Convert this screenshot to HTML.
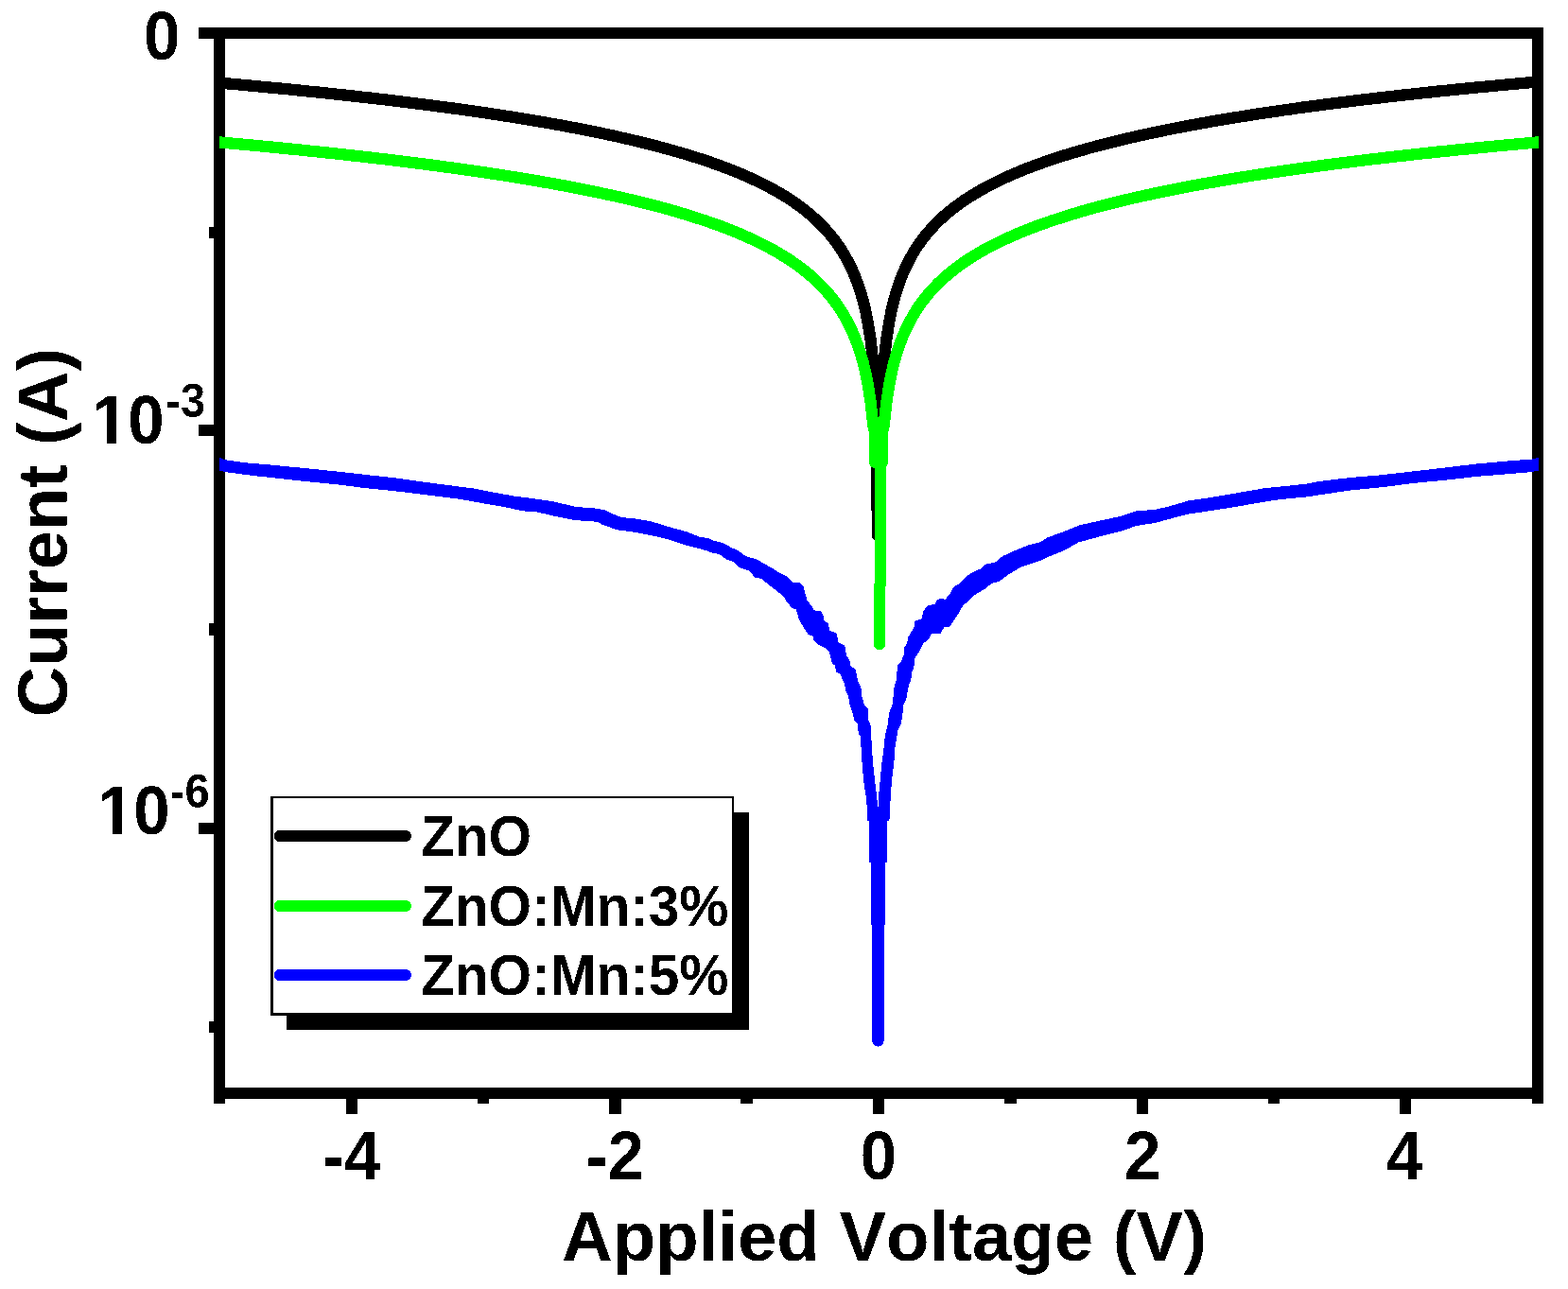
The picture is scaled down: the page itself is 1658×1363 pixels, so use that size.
<!DOCTYPE html>
<html lang="en"><head><meta charset="utf-8"><title>Current (A) vs Applied Voltage (V)</title>
<style>
html,body{margin:0;padding:0;background:#fff;}
body{width:1658px;height:1363px;overflow:hidden;}
svg{display:block;}
text{font-family:"Liberation Sans",sans-serif;font-weight:bold;fill:#000;font-kerning:none;font-variant-ligatures:none;}
.ax{fill:#000;shape-rendering:crispEdges;}
.cv{fill:none;stroke-width:12.3;stroke-linejoin:round;stroke-linecap:round;shape-rendering:crispEdges;}
</style></head><body>
<svg width="1658" height="1363" viewBox="0 0 1658 1363">
<rect x="0" y="0" width="1658" height="1363" fill="#fff"/>
<defs><filter id="bin" x="-10%" y="-20%" width="120%" height="140%" color-interpolation-filters="sRGB"><feComponentTransfer><feFuncA type="discrete" tableValues="0 1"/></feComponentTransfer></filter></defs>
<defs><clipPath id="plot"><rect x="232" y="29" width="1395" height="1133"/></clipPath></defs>
<g class="ax">
<rect x="226" y="29" width="1406" height="12"/>
<rect x="226" y="1150" width="1406" height="12"/>
<rect x="226" y="29" width="12" height="1138"/>
<rect x="1620" y="29" width="12" height="1138"/>
<rect x="210" y="29" width="16" height="12"/>
<rect x="210" y="449" width="16" height="12"/>
<rect x="210" y="870" width="16" height="12"/>
<rect x="221" y="240" width="5" height="12"/>
<rect x="221" y="659" width="5" height="13"/>
<rect x="221" y="1080" width="5" height="12"/>
<rect x="366" y="1162" width="12" height="16"/>
<rect x="644" y="1162" width="13" height="16"/>
<rect x="923" y="1162" width="12" height="16"/>
<rect x="1202" y="1162" width="12" height="16"/>
<rect x="1480" y="1162" width="12" height="16"/>
<rect x="505" y="1162" width="12" height="5"/>
<rect x="783" y="1162" width="13" height="5"/>
<rect x="1062" y="1162" width="13" height="5"/>
<rect x="1341" y="1162" width="12" height="5"/>
</g>
<g clip-path="url(#plot)">
<polyline class="cv" stroke="#000" points="231.8,87.6 234.5,87.8 237.3,88.1 240.1,88.3 242.9,88.6 245.7,88.8 248.5,89.1 251.3,89.3 254.1,89.6 256.9,89.9 259.6,90.1 262.4,90.4 265.2,90.6 268.0,90.9 270.8,91.1 273.6,91.4 276.4,91.7 279.2,91.9 282.0,92.2 284.7,92.5 287.5,92.7 290.3,93.0 293.1,93.3 295.9,93.5 298.7,93.8 301.5,94.1 304.3,94.3 307.1,94.6 309.8,94.9 312.6,95.2 315.4,95.5 318.2,95.7 321.0,96.0 323.8,96.3 326.6,96.6 329.4,96.9 332.2,97.2 334.9,97.4 337.7,97.7 340.5,98.0 343.3,98.3 346.1,98.6 348.9,98.9 351.7,99.2 354.5,99.5 357.3,99.8 360.0,100.1 362.8,100.4 365.6,100.7 368.4,101.0 371.2,101.3 374.0,101.6 376.8,101.9 379.6,102.2 382.4,102.6 385.1,102.9 387.9,103.2 390.7,103.5 393.5,103.8 396.3,104.1 399.1,104.5 401.9,104.8 404.7,105.1 407.5,105.4 410.2,105.8 413.0,106.1 415.8,106.4 418.6,106.8 421.4,107.1 424.2,107.4 427.0,107.8 429.8,108.1 432.6,108.5 435.3,108.8 438.1,109.2 440.9,109.5 443.7,109.9 446.5,110.2 449.3,110.6 452.1,110.9 454.9,111.3 457.7,111.7 460.4,112.0 463.2,112.4 466.0,112.8 468.8,113.1 471.6,113.5 474.4,113.9 477.2,114.3 480.0,114.6 482.8,115.0 485.5,115.4 488.3,115.8 491.1,116.2 493.9,116.6 496.7,117.0 499.5,117.4 502.3,117.8 505.1,118.2 507.9,118.6 510.7,119.0 513.4,119.4 516.2,119.8 519.0,120.2 521.8,120.7 524.6,121.1 527.4,121.5 530.2,121.9 533.0,122.4 535.8,122.8 538.5,123.2 541.3,123.7 544.1,124.1 546.9,124.6 549.7,125.0 552.5,125.5 555.3,125.9 558.1,126.4 560.9,126.8 563.6,127.3 566.4,127.8 569.2,128.3 572.0,128.7 574.8,129.2 577.6,129.7 580.4,130.2 583.2,130.7 586.0,131.2 588.7,131.7 591.5,132.2 594.3,132.7 597.1,133.2 599.9,133.7 602.7,134.3 605.5,134.8 608.3,135.3 611.1,135.9 613.8,136.4 616.6,136.9 619.4,137.5 622.2,138.1 625.0,138.6 627.8,139.2 630.6,139.8 633.4,140.3 636.2,140.9 638.9,141.5 641.7,142.1 644.5,142.7 647.3,143.3 650.1,143.9 652.9,144.5 655.7,145.2 658.5,145.8 661.3,146.4 664.0,147.1 666.8,147.7 669.6,148.4 672.4,149.0 675.2,149.7 678.0,150.4 680.8,151.1 683.6,151.8 686.4,152.5 689.1,153.2 691.9,153.9 694.7,154.6 697.5,155.4 700.3,156.1 703.1,156.9 705.9,157.6 708.7,158.4 711.5,159.2 714.2,160.0 717.0,160.8 719.8,161.6 722.6,162.4 725.4,163.2 728.2,164.1 731.0,165.0 733.8,165.8 736.6,166.7 739.3,167.6 742.1,168.5 744.9,169.4 747.7,170.4 750.5,171.3 753.3,172.3 756.1,173.3 758.9,174.3 761.7,175.3 764.4,176.3 767.2,177.4 770.0,178.5 772.8,179.5 775.6,180.6 778.4,181.8 781.2,182.9 784.0,184.1 786.8,185.3 789.5,186.5 792.3,187.7 795.1,189.0 797.9,190.3 800.7,191.6 803.5,193.0 806.3,194.4 809.1,195.8 811.9,197.2 814.7,198.7 817.4,200.2 820.2,201.8 823.0,203.4 825.8,205.0 828.6,206.7 831.4,208.4 834.2,210.2 837.0,212.0 839.8,213.9 842.5,215.9 845.3,217.9 848.1,220.0 850.9,222.1 853.7,224.4 856.5,226.7 859.3,229.1 862.1,231.6 864.9,234.2 867.6,237.0 870.4,239.8 873.2,242.8 876.0,246.0 878.8,249.3 881.6,252.8 884.4,256.5 887.2,260.5 890.0,264.7 892.7,269.3 895.5,274.2 898.3,279.6 901.1,285.4 903.9,291.9 906.7,299.1 909.5,307.3 912.3,316.8 915.1,328.0 917.8,341.7 920.6,359.4 923.4,384.3 926.2,426.9 928.0,566.0 931.8,425.8 934.6,383.2 937.4,358.3 940.2,340.6 942.9,326.9 945.7,315.7 948.5,306.2 951.3,298.0 954.1,290.8 956.9,284.3 959.7,278.5 962.5,273.1 965.3,268.2 968.0,263.6 970.8,259.4 973.6,255.4 976.4,251.7 979.2,248.2 982.0,244.9 984.8,241.7 987.6,238.7 990.4,235.9 993.1,233.1 995.9,230.5 998.7,228.0 1001.5,225.6 1004.3,223.3 1007.1,221.0 1009.9,218.9 1012.7,216.8 1015.5,214.8 1018.2,212.8 1021.0,210.9 1023.8,209.1 1026.6,207.3 1029.4,205.6 1032.2,203.9 1035.0,202.3 1037.8,200.7 1040.6,199.1 1043.3,197.6 1046.1,196.1 1048.9,194.7 1051.7,193.3 1054.5,191.9 1057.3,190.5 1060.1,189.2 1062.9,187.9 1065.7,186.6 1068.5,185.4 1071.2,184.2 1074.0,183.0 1076.8,181.8 1079.6,180.7 1082.4,179.5 1085.2,178.4 1088.0,177.4 1090.8,176.3 1093.6,175.2 1096.3,174.2 1099.1,173.2 1101.9,172.2 1104.7,171.2 1107.5,170.2 1110.3,169.3 1113.1,168.3 1115.9,167.4 1118.7,166.5 1121.4,165.6 1124.2,164.7 1127.0,163.9 1129.8,163.0 1132.6,162.1 1135.4,161.3 1138.2,160.5 1141.0,159.7 1143.8,158.9 1146.5,158.1 1149.3,157.3 1152.1,156.5 1154.9,155.8 1157.7,155.0 1160.5,154.3 1163.3,153.5 1166.1,152.8 1168.9,152.1 1171.6,151.4 1174.4,150.7 1177.2,150.0 1180.0,149.3 1182.8,148.6 1185.6,147.9 1188.4,147.3 1191.2,146.6 1194.0,146.0 1196.7,145.3 1199.5,144.7 1202.3,144.1 1205.1,143.4 1207.9,142.8 1210.7,142.2 1213.5,141.6 1216.3,141.0 1219.1,140.4 1221.8,139.8 1224.6,139.2 1227.4,138.7 1230.2,138.1 1233.0,137.5 1235.8,137.0 1238.6,136.4 1241.4,135.8 1244.2,135.3 1246.9,134.8 1249.7,134.2 1252.5,133.7 1255.3,133.2 1258.1,132.6 1260.9,132.1 1263.7,131.6 1266.5,131.1 1269.3,130.6 1272.0,130.1 1274.8,129.6 1277.6,129.1 1280.4,128.6 1283.2,128.1 1286.0,127.6 1288.8,127.2 1291.6,126.7 1294.4,126.2 1297.1,125.7 1299.9,125.3 1302.7,124.8 1305.5,124.4 1308.3,123.9 1311.1,123.5 1313.9,123.0 1316.7,122.6 1319.5,122.1 1322.2,121.7 1325.0,121.3 1327.8,120.8 1330.6,120.4 1333.4,120.0 1336.2,119.6 1339.0,119.1 1341.8,118.7 1344.6,118.3 1347.3,117.9 1350.1,117.5 1352.9,117.1 1355.7,116.7 1358.5,116.3 1361.3,115.9 1364.1,115.5 1366.9,115.1 1369.7,114.7 1372.5,114.3 1375.2,113.9 1378.0,113.5 1380.8,113.2 1383.6,112.8 1386.4,112.4 1389.2,112.0 1392.0,111.7 1394.8,111.3 1397.6,110.9 1400.3,110.6 1403.1,110.2 1405.9,109.8 1408.7,109.5 1411.5,109.1 1414.3,108.8 1417.1,108.4 1419.9,108.1 1422.7,107.7 1425.4,107.4 1428.2,107.0 1431.0,106.7 1433.8,106.3 1436.6,106.0 1439.4,105.7 1442.2,105.3 1445.0,105.0 1447.8,104.7 1450.5,104.3 1453.3,104.0 1456.1,103.7 1458.9,103.4 1461.7,103.0 1464.5,102.7 1467.3,102.4 1470.1,102.1 1472.9,101.8 1475.6,101.5 1478.4,101.1 1481.2,100.8 1484.0,100.5 1486.8,100.2 1489.6,99.9 1492.4,99.6 1495.2,99.3 1498.0,99.0 1500.7,98.7 1503.5,98.4 1506.3,98.1 1509.1,97.8 1511.9,97.5 1514.7,97.2 1517.5,96.9 1520.3,96.6 1523.1,96.3 1525.8,96.1 1528.6,95.8 1531.4,95.5 1534.2,95.2 1537.0,94.9 1539.8,94.6 1542.6,94.4 1545.4,94.1 1548.2,93.8 1550.9,93.5 1553.7,93.2 1556.5,93.0 1559.3,92.7 1562.1,92.4 1564.9,92.2 1567.7,91.9 1570.5,91.6 1573.3,91.4 1576.0,91.1 1578.8,90.8 1581.6,90.6 1584.4,90.3 1587.2,90.0 1590.0,89.8 1592.8,89.5 1595.6,89.3 1598.4,89.0 1601.1,88.8 1603.9,88.5 1606.7,88.2 1609.5,88.0 1612.3,87.7 1615.1,87.5 1617.9,87.2 1620.7,87.0 1623.5,86.7 1626.2,86.5"/>
<polyline class="cv" stroke="#00ff00" points="231.8,150.4 234.5,150.6 237.3,150.9 240.1,151.1 242.9,151.4 245.7,151.7 248.5,151.9 251.3,152.2 254.1,152.4 256.9,152.7 259.6,152.9 262.4,153.2 265.2,153.5 268.0,153.7 270.8,154.0 273.6,154.2 276.4,154.5 279.2,154.8 282.0,155.0 284.7,155.3 287.5,155.6 290.3,155.8 293.1,156.1 295.9,156.4 298.7,156.7 301.5,156.9 304.3,157.2 307.1,157.5 309.8,157.8 312.6,158.1 315.4,158.3 318.2,158.6 321.0,158.9 323.8,159.2 326.6,159.5 329.4,159.8 332.2,160.1 334.9,160.3 337.7,160.6 340.5,160.9 343.3,161.2 346.1,161.5 348.9,161.8 351.7,162.1 354.5,162.4 357.3,162.7 360.0,163.0 362.8,163.3 365.6,163.6 368.4,163.9 371.2,164.3 374.0,164.6 376.8,164.9 379.6,165.2 382.4,165.5 385.1,165.8 387.9,166.1 390.7,166.5 393.5,166.8 396.3,167.1 399.1,167.4 401.9,167.8 404.7,168.1 407.5,168.4 410.2,168.8 413.0,169.1 415.8,169.4 418.6,169.8 421.4,170.1 424.2,170.5 427.0,170.8 429.8,171.1 432.6,171.5 435.3,171.8 438.1,172.2 440.9,172.6 443.7,172.9 446.5,173.3 449.3,173.6 452.1,174.0 454.9,174.4 457.7,174.7 460.4,175.1 463.2,175.5 466.0,175.8 468.8,176.2 471.6,176.6 474.4,177.0 477.2,177.3 480.0,177.7 482.8,178.1 485.5,178.5 488.3,178.9 491.1,179.3 493.9,179.7 496.7,180.1 499.5,180.5 502.3,180.9 505.1,181.3 507.9,181.7 510.7,182.1 513.4,182.5 516.2,183.0 519.0,183.4 521.8,183.8 524.6,184.2 527.4,184.7 530.2,185.1 533.0,185.5 535.8,186.0 538.5,186.4 541.3,186.9 544.1,187.3 546.9,187.8 549.7,188.2 552.5,188.7 555.3,189.1 558.1,189.6 560.9,190.1 563.6,190.5 566.4,191.0 569.2,191.5 572.0,192.0 574.8,192.5 577.6,193.0 580.4,193.4 583.2,193.9 586.0,194.4 588.7,195.0 591.5,195.5 594.3,196.0 597.1,196.5 599.9,197.0 602.7,197.6 605.5,198.1 608.3,198.6 611.1,199.2 613.8,199.7 616.6,200.3 619.4,200.8 622.2,201.4 625.0,202.0 627.8,202.5 630.6,203.1 633.4,203.7 636.2,204.3 638.9,204.9 641.7,205.5 644.5,206.1 647.3,206.7 650.1,207.3 652.9,207.9 655.7,208.6 658.5,209.2 661.3,209.8 664.0,210.5 666.8,211.1 669.6,211.8 672.4,212.5 675.2,213.2 678.0,213.8 680.8,214.5 683.6,215.2 686.4,216.0 689.1,216.7 691.9,217.4 694.7,218.1 697.5,218.9 700.3,219.6 703.1,220.4 705.9,221.2 708.7,221.9 711.5,222.7 714.2,223.5 717.0,224.3 719.8,225.2 722.6,226.0 725.4,226.9 728.2,227.7 731.0,228.6 733.8,229.5 736.6,230.4 739.3,231.3 742.1,232.2 744.9,233.1 747.7,234.1 750.5,235.0 753.3,236.0 756.1,237.0 758.9,238.0 761.7,239.0 764.4,240.1 767.2,241.1 770.0,242.2 772.8,243.3 775.6,244.4 778.4,245.6 781.2,246.7 784.0,247.9 786.8,249.1 789.5,250.4 792.3,251.6 795.1,252.9 797.9,254.2 800.7,255.5 803.5,256.9 806.3,258.3 809.1,259.7 811.9,261.2 814.7,262.7 817.4,264.2 820.2,265.8 823.0,267.4 825.8,269.1 828.6,270.8 831.4,272.5 834.2,274.3 837.0,276.2 839.8,278.1 842.5,280.0 845.3,282.1 848.1,284.2 850.9,286.4 853.7,288.6 856.5,291.0 859.3,293.4 862.1,295.9 864.9,298.6 867.6,301.3 870.4,304.2 873.2,307.3 876.0,310.4 878.8,313.8 881.6,317.4 884.4,321.1 887.2,325.1 890.0,329.4 892.7,334.0 895.5,339.0 898.3,344.4 901.1,350.3 903.9,356.8 906.7,364.2 909.5,372.5 912.3,382.0 915.1,393.4 917.8,407.2 920.6,425.1 923.4,450.3 925.2,458.0 925.2,489.0 931.0,489.0 931.0,616.0 930.0,622.0 930.0,681.0 930.0,622.0 931.0,616.0 931.0,489.0 932.8,489.0 932.8,458.0 934.6,450.3 937.4,425.1 940.2,407.2 942.9,393.4 945.7,382.0 948.5,372.5 951.3,364.2 954.1,356.8 956.9,350.3 959.7,344.4 962.5,339.0 965.3,334.0 968.0,329.4 970.8,325.1 973.6,321.1 976.4,317.4 979.2,313.8 982.0,310.4 984.8,307.3 987.6,304.2 990.4,301.3 993.1,298.6 995.9,295.9 998.7,293.4 1001.5,291.0 1004.3,288.6 1007.1,286.4 1009.9,284.2 1012.7,282.1 1015.5,280.0 1018.2,278.1 1021.0,276.2 1023.8,274.3 1026.6,272.5 1029.4,270.8 1032.2,269.1 1035.0,267.4 1037.8,265.8 1040.6,264.2 1043.3,262.7 1046.1,261.2 1048.9,259.7 1051.7,258.3 1054.5,256.9 1057.3,255.5 1060.1,254.2 1062.9,252.9 1065.7,251.6 1068.5,250.4 1071.2,249.1 1074.0,247.9 1076.8,246.7 1079.6,245.6 1082.4,244.4 1085.2,243.3 1088.0,242.2 1090.8,241.1 1093.6,240.1 1096.3,239.0 1099.1,238.0 1101.9,237.0 1104.7,236.0 1107.5,235.0 1110.3,234.1 1113.1,233.1 1115.9,232.2 1118.7,231.3 1121.4,230.4 1124.2,229.5 1127.0,228.6 1129.8,227.7 1132.6,226.9 1135.4,226.0 1138.2,225.2 1141.0,224.3 1143.8,223.5 1146.5,222.7 1149.3,221.9 1152.1,221.2 1154.9,220.4 1157.7,219.6 1160.5,218.9 1163.3,218.1 1166.1,217.4 1168.9,216.7 1171.6,216.0 1174.4,215.2 1177.2,214.5 1180.0,213.8 1182.8,213.2 1185.6,212.5 1188.4,211.8 1191.2,211.1 1194.0,210.5 1196.7,209.8 1199.5,209.2 1202.3,208.6 1205.1,207.9 1207.9,207.3 1210.7,206.7 1213.5,206.1 1216.3,205.5 1219.1,204.9 1221.8,204.3 1224.6,203.7 1227.4,203.1 1230.2,202.5 1233.0,202.0 1235.8,201.4 1238.6,200.8 1241.4,200.3 1244.2,199.7 1246.9,199.2 1249.7,198.6 1252.5,198.1 1255.3,197.6 1258.1,197.0 1260.9,196.5 1263.7,196.0 1266.5,195.5 1269.3,195.0 1272.0,194.4 1274.8,193.9 1277.6,193.4 1280.4,193.0 1283.2,192.5 1286.0,192.0 1288.8,191.5 1291.6,191.0 1294.4,190.5 1297.1,190.1 1299.9,189.6 1302.7,189.1 1305.5,188.7 1308.3,188.2 1311.1,187.8 1313.9,187.3 1316.7,186.9 1319.5,186.4 1322.2,186.0 1325.0,185.5 1327.8,185.1 1330.6,184.7 1333.4,184.2 1336.2,183.8 1339.0,183.4 1341.8,183.0 1344.6,182.5 1347.3,182.1 1350.1,181.7 1352.9,181.3 1355.7,180.9 1358.5,180.5 1361.3,180.1 1364.1,179.7 1366.9,179.3 1369.7,178.9 1372.5,178.5 1375.2,178.1 1378.0,177.7 1380.8,177.3 1383.6,177.0 1386.4,176.6 1389.2,176.2 1392.0,175.8 1394.8,175.5 1397.6,175.1 1400.3,174.7 1403.1,174.4 1405.9,174.0 1408.7,173.6 1411.5,173.3 1414.3,172.9 1417.1,172.6 1419.9,172.2 1422.7,171.8 1425.4,171.5 1428.2,171.1 1431.0,170.8 1433.8,170.5 1436.6,170.1 1439.4,169.8 1442.2,169.4 1445.0,169.1 1447.8,168.8 1450.5,168.4 1453.3,168.1 1456.1,167.8 1458.9,167.4 1461.7,167.1 1464.5,166.8 1467.3,166.5 1470.1,166.1 1472.9,165.8 1475.6,165.5 1478.4,165.2 1481.2,164.9 1484.0,164.6 1486.8,164.3 1489.6,163.9 1492.4,163.6 1495.2,163.3 1498.0,163.0 1500.7,162.7 1503.5,162.4 1506.3,162.1 1509.1,161.8 1511.9,161.5 1514.7,161.2 1517.5,160.9 1520.3,160.6 1523.1,160.3 1525.8,160.1 1528.6,159.8 1531.4,159.5 1534.2,159.2 1537.0,158.9 1539.8,158.6 1542.6,158.3 1545.4,158.1 1548.2,157.8 1550.9,157.5 1553.7,157.2 1556.5,156.9 1559.3,156.7 1562.1,156.4 1564.9,156.1 1567.7,155.8 1570.5,155.6 1573.3,155.3 1576.0,155.0 1578.8,154.8 1581.6,154.5 1584.4,154.2 1587.2,154.0 1590.0,153.7 1592.8,153.5 1595.6,153.2 1598.4,152.9 1601.1,152.7 1603.9,152.4 1606.7,152.2 1609.5,151.9 1612.3,151.7 1615.1,151.4 1617.9,151.1 1620.7,150.9 1623.5,150.6 1626.2,150.4"/>
<path fill="#0000ff" shape-rendering="crispEdges" d="M232.0 483.7 L238.0 486.2 L257.6 489.1 L290.1 491.9 L322.7 495.1 L355.3 498.4 L387.8 502.1 L420.4 505.7 L453.0 510.3 L485.5 514.5 L499.5 516.3 L520.7 520.4 L545.1 524.8 L567.9 527.7 L584.2 530.1 L610.3 536.2 L626.6 537.1 L638.8 539.1 L646.1 542.7 L657.5 547.2 L670.5 548.2 L688.4 551.3 L708.0 557.3 L727.5 562.7 L740.0 567.8 L748.4 569.0 L755.7 572.1 L764.1 573.9 L773.8 579.3 L779.8 581.7 L788.3 588.0 L800.3 591.6 L807.6 595.9 L817.2 601.0 L824.4 605.8 L831.7 609.5 L838.9 616.1 L844.9 615.7 L849.2 619.1 L851.0 625.7 L853.4 634.8 L858.2 640.8 L860.6 645.4 L867.9 646.2 L870.9 651.7 L871.5 655.9 L875.7 659.5 L877.5 666.8 L884.8 669.8 L886.6 679.4 L893.2 682.4 L895.0 692.7 L898.6 698.7 L899.2 703.5 L904.7 708.4 L906.9 719.2 L910.4 727.2 L911.3 736.0 L914.0 745.7 L917.5 749.2 L918.4 761.5 L920.6 766.8 L921.9 789.7 L923.1 807.3 L925.0 824.9 L927.2 842.5 L928.4 856.6 L928.9 842.5 L930.7 824.9 L932.4 807.3 L934.7 789.7 L936.0 776.5 L938.6 766.8 L940.0 754.5 L943.9 743.9 L945.3 727.2 L947.8 719.2 L949.0 703.5 L952.6 699.9 L956.2 691.5 L956.2 684.2 L959.2 680.6 L959.8 674.6 L963.4 668.6 L966.4 663.7 L967.6 656.5 L974.9 654.1 L976.1 646.9 L979.1 642.0 L981.5 639.9 L988.8 639.0 L990.6 634.8 L994.2 633.0 L999.6 633.8 L1005.0 627.0 L1008.1 620.9 L1015.3 616.5 L1022.5 608.9 L1031.0 603.7 L1037.0 601.6 L1041.8 596.8 L1052.7 594.4 L1059.9 588.3 L1068.4 584.1 L1076.8 580.7 L1087.7 576.3 L1100.0 573.2 L1106.8 568.7 L1125.3 561.9 L1142.2 555.2 L1167.6 549.6 L1184.5 545.9 L1201.3 540.5 L1221.6 538.8 L1235.1 535.7 L1257.1 529.3 L1277.3 526.4 L1302.7 522.2 L1336.5 516.3 L1353.3 514.6 L1380.0 511.8 L1393.8 509.2 L1427.6 505.0 L1461.3 502.2 L1495.1 498.3 L1528.9 494.4 L1562.7 490.3 L1596.5 487.3 L1620.0 485.6 L1627.0 483.9 L1627.0 497.4 L1620.0 499.1 L1596.5 501.1 L1562.7 503.8 L1528.9 507.6 L1495.1 510.9 L1461.3 515.2 L1427.6 518.5 L1393.8 523.6 L1380.0 525.6 L1353.3 528.1 L1336.5 530.7 L1302.7 536.6 L1277.3 540.5 L1255.4 543.8 L1235.1 549.2 L1221.6 553.0 L1201.3 556.0 L1187.8 561.1 L1167.6 566.1 L1140.5 573.4 L1125.3 582.2 L1110.1 588.1 L1100.0 592.8 L1093.7 595.0 L1080.4 599.2 L1067.2 607.0 L1056.3 614.9 L1049.1 616.7 L1040.6 623.3 L1031.0 628.8 L1024.9 634.8 L1018.3 640.2 L1011.7 651.7 L1004.4 662.5 L998.4 663.1 L994.8 669.5 L985.1 670.4 L981.5 676.4 L976.1 680.6 L971.9 689.1 L967.0 696.9 L966.4 706.0 L964.0 710.8 L963.3 719.2 L961.1 723.6 L958.0 740.4 L955.3 745.7 L954.5 754.5 L952.7 765.9 L949.5 772.1 L946.5 789.7 L945.3 807.3 L943.0 824.9 L941.8 842.5 L940.7 860.1 L940.7 866.0 L917.1 866.0 L917.1 856.6 L915.7 842.5 L913.1 824.9 L911.3 803.8 L909.9 779.1 L907.8 775.6 L906.9 765.9 L903.4 761.5 L900.8 751.8 L898.1 743.9 L897.2 736.0 L894.6 731.6 L892.8 722.8 L891.1 719.2 L889.0 713.2 L884.2 710.8 L882.9 703.5 L879.9 701.7 L876.9 689.7 L872.7 685.5 L865.5 681.8 L860.6 677.6 L860.0 672.8 L854.6 671.2 L849.8 663.7 L844.9 655.3 L841.9 644.4 L837.7 643.2 L831.7 636.0 L829.3 631.2 L820.8 624.5 L812.4 617.9 L805.1 612.1 L797.9 610.4 L793.1 604.0 L782.2 600.4 L775.0 594.0 L767.7 591.4 L760.5 585.9 L753.3 584.7 L747.2 582.3 L740.0 580.3 L724.3 576.2 L708.0 570.8 L691.7 566.8 L670.5 562.7 L652.6 560.3 L636.3 554.6 L633.1 552.4 L626.6 551.3 L608.6 550.2 L585.8 545.6 L567.9 541.5 L553.3 540.4 L533.7 536.2 L512.6 532.6 L496.3 529.6 L485.5 527.7 L453.0 523.6 L420.4 519.6 L387.8 516.3 L355.3 512.2 L322.7 509.0 L290.1 505.4 L265.7 502.8 L241.3 499.5 L232.0 497.6Z"/>
<path class="cv" stroke="#0000ff" d="M928.4 860V1100.5"/>
<rect x="921" y="858" width="15" height="120" fill="#0000ff"/>
<rect x="919" y="858" width="19" height="54" fill="#0000ff"/>
<rect x="917" y="856" width="23" height="12" fill="#0000ff"/>
</g>
<g>
<rect class="ax" x="303" y="859" width="489" height="230"/>
<rect class="ax" x="286" y="842" width="490" height="232"/>
<rect x="289" y="844" width="485" height="227" fill="#fff" shape-rendering="crispEdges"/>
<line x1="295.5" y1="884" x2="429" y2="884" stroke="#000" stroke-width="12" stroke-linecap="round" shape-rendering="crispEdges"/>
<line x1="295.5" y1="958" x2="429" y2="958" stroke="#00ff00" stroke-width="12" stroke-linecap="round" shape-rendering="crispEdges"/>
<line x1="295.5" y1="1031" x2="429" y2="1031" stroke="#0000ff" stroke-width="12" stroke-linecap="round" shape-rendering="crispEdges"/>
<text transform="translate(445.00,904.80) scale(1.0000,1.0300)" font-size="58.6" filter="url(#bin)">ZnO</text>
<text transform="translate(445.00,979.20) scale(1.0000,1.0300)" font-size="58.6" filter="url(#bin)">ZnO:Mn:3%</text>
<text transform="translate(445.00,1052.10) scale(1.0000,1.0300)" font-size="58.6" filter="url(#bin)">ZnO:Mn:5%</text>
</g>
<text transform="translate(371.70,1247.40) scale(1.0000,1.0450)" font-size="69" text-anchor="middle" filter="url(#bin)">-4</text>
<text transform="translate(650.30,1247.40) scale(1.0000,1.0450)" font-size="69" text-anchor="middle" filter="url(#bin)">-2</text>
<text transform="translate(929.00,1247.40) scale(1.0000,1.0450)" font-size="69" text-anchor="middle" filter="url(#bin)">0</text>
<text transform="translate(1208.20,1247.40) scale(1.0000,1.0450)" font-size="69" text-anchor="middle" filter="url(#bin)">2</text>
<text transform="translate(1485.30,1247.40) scale(1.0000,1.0450)" font-size="69" text-anchor="middle" filter="url(#bin)">4</text>
<text transform="translate(190.50,62.80) scale(1.0000,1.0450)" font-size="69" text-anchor="end" filter="url(#bin)">0</text>
<text transform="translate(97.00,469.00) scale(1.0000,1.0450)" font-size="69" filter="url(#bin)">10<tspan font-size="47" dx="1.5" dy="-27">-3</tspan></text>
<text transform="translate(103.00,882.00) scale(1.0000,1.0450)" font-size="69" filter="url(#bin)">10<tspan font-size="47" dy="-27">-6</tspan></text>
<rect x="100" y="461" width="13" height="10" fill="#fff" shape-rendering="crispEdges"/>
<rect x="123" y="461" width="12" height="10" fill="#fff" shape-rendering="crispEdges"/>
<rect x="106" y="874" width="13" height="10" fill="#fff" shape-rendering="crispEdges"/>
<rect x="129" y="874" width="12" height="10" fill="#fff" shape-rendering="crispEdges"/>
<text transform="translate(594.00,1332.70) scale(1.0055,1.0000)" font-size="74" filter="url(#bin)">Applied Voltage (V)</text>
<text transform="translate(70.70,758.50) rotate(-90) scale(1.0000,1.0000)" font-size="74" filter="url(#bin)">Current (A)</text>
</svg></body></html>
